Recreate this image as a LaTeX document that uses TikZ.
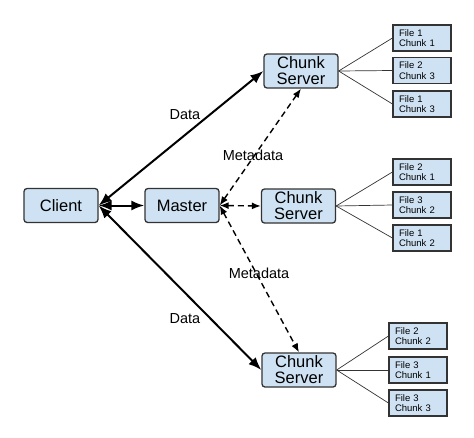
\documentclass[tikz,border=0pt]{standalone}
\usepackage{fontspec}
\setmainfont{Liberation Sans}
\usetikzlibrary{arrows.meta}

\definecolor{boxblue}{HTML}{CFE2F3}
\definecolor{edge}{HTML}{333333}

\tikzset{
  bigbox/.style={draw=edge, fill=boxblue, line width=1.3pt, rounded corners=3pt,
    minimum width=74pt, minimum height=34pt, inner sep=0pt, font=\fontsize{16.5}{16}\selectfont, align=center},
  filebox/.style={draw=edge, fill=boxblue, line width=1.1pt,
    minimum width=58pt, minimum height=26pt, inner sep=0pt, text width=46pt,
    font=\fontsize{9.5}{10.5}\selectfont, align=left},
  datalink/.style={line width=2pt, {Latex[length=13pt,width=10pt]}-{Latex[length=13pt,width=10pt]}},
  metalink/.style={line width=1.4pt, dash pattern=on 6pt off 4pt, {Latex[length=9pt,width=7pt]}-{Latex[length=9pt,width=7pt]}},
  filelink/.style={draw=edge, line width=0.7pt},
  tag/.style={font=\fontsize{14.5}{14}\selectfont}
}

\begin{document}
\begin{tikzpicture}[x=1pt, y=-1pt]
\useasboundingbox (0,0) rectangle (474,437);
% main boxes
\node[bigbox] (client) at (61,205.5) {Client};
\node[bigbox] (master) at (182,205.5) {Master};
\node[bigbox] (srvA) at (301,71) {Chunk\\Server};
\node[bigbox] (srvB) at (298.5,206) {Chunk\\Server};
\node[bigbox] (srvC) at (299,370) {Chunk\\Server};
% chunks held by each server
\node[filebox] (fA1) at (422,38) {File 1\\Chunk 1};
\node[filebox] (fA2) at (422,70.5) {File 2\\Chunk 3};
\node[filebox] (fA3) at (422,104) {File 1\\Chunk 3};
\node[filebox] (fB1) at (422,172) {File 2\\Chunk 1};
\node[filebox] (fB2) at (422,205) {File 3\\Chunk 2};
\node[filebox] (fB3) at (422,238) {File 1\\Chunk 2};
\node[filebox] (fC1) at (418,336) {File 2\\Chunk 2};
\node[filebox] (fC2) at (418,370) {File 3\\Chunk 1};
\node[filebox] (fC3) at (418,403) {File 3\\Chunk 3};
\foreach \s/\f in {A/fA1,A/fA2,A/fA3,B/fB1,B/fB2,B/fB3,C/fC1,C/fC2,C/fC3}
  \draw[filelink] (srv\s.east) -- (\f.west);
% data paths
\draw[datalink] (client.east) -- (srvA.west);
\draw[datalink] (client.east) -- (master.west);
\draw[datalink] (client.east) -- (srvC.west);
% metadata paths
\draw[metalink] (master.east) -- (srvA.south);
\draw[metalink] (master.east) -- (srvB.west);
\draw[metalink] (master.east) -- (srvC.north);
% labels
\node[tag] (dataA) at (185,115) {Data};
\node[tag] (metaA) at (253,155) {Metadata};
\node[tag] (metaC) at (259,273) {Metadata};
\node[tag] (dataC) at (185,319) {Data};
\end{tikzpicture}
\end{document}
